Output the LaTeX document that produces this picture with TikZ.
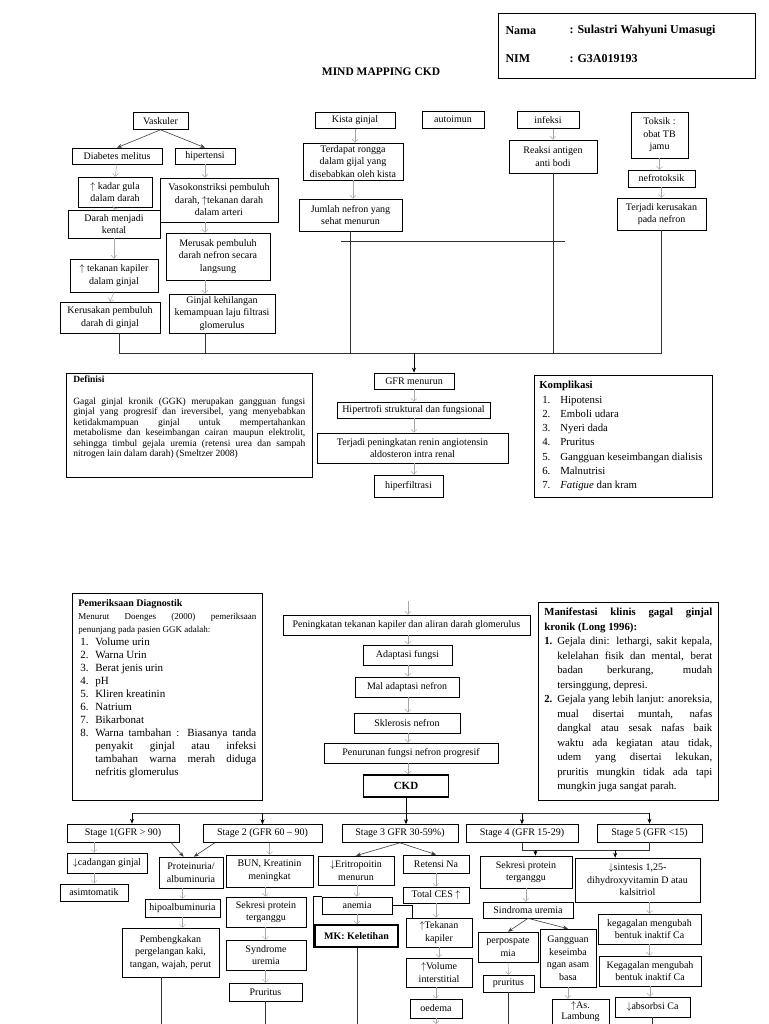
\documentclass[tikz,border=0pt]{standalone}
\usepackage{fontspec}
\setmainfont{Liberation Serif}
\usetikzlibrary{arrows.meta}

\newcommand{\fs}{\fontsize{10}{12.5}\selectfont}
\newcommand{\hdrfont}{\bfseries\fontsize{12}{14}\selectfont}
\newcommand{\litem}[3]{\par\hangindent=#1\hangafter=1\noindent\makebox[#1][l]{#2}#3}

\tikzset{
  cbox/.style={draw, line width=0.6pt, align=center, inner sep=1.5pt, font=\fs},
  txtpanel/.style={draw, line width=0.6pt, anchor=north west, inner ysep=3pt},
  arr/.style={-{Straight Barb[length=3pt,width=6pt]}, gray!70, line width=0.5pt},
  blkarr/.style={-{Stealth[length=5pt,width=4pt]}, black, line width=0.6pt},
  diag/.style={-{Stealth[length=5pt,width=4pt]}, gray!50!black, line width=0.6pt},
  bus/.style={black!80, line width=0.6pt},
  bracket/.style={black, line width=1.5pt}
}

\begin{document}
\begin{tikzpicture}[x=1pt, y=-1pt]
\useasboundingbox (0,0) rectangle (768,1024);
\coordinate (bot) at (0,1024);

% Header
\node[draw, line width=0.8pt, minimum width=257, minimum height=65] (hdr) at (626.5,45.5) {};
\node[anchor=west, font=\hdrfont] (nama) at (502,31) {Nama};
\node[anchor=west, font=\hdrfont] (namaval) at (566,31) {: Sulastri Wahyuni Umasugi};
\node[anchor=west, font=\hdrfont] (nim) at (502,59) {NIM};
\node[anchor=west, font=\hdrfont] (nimval) at (566,59) {: G3A019193};
\node[font=\bfseries\fontsize{11.5}{13}\selectfont] (title) at (381,72) {MIND MAPPING CKD};

% Etiologi - vaskuler
\node[cbox, minimum width=55, minimum height=17] (vask) at (160.5,121) {Vaskuler};
\node[cbox, minimum width=90, minimum height=16] (dm) at (117,156) {Diabetes melitus};
\node[cbox, minimum width=60, minimum height=16] (hip) at (205,156) {hipertensi};
\node[cbox, minimum width=74, minimum height=30] (kadar) at (115,192) {$\uparrow$ kadar gula\\dalam darah};
\node[cbox, minimum width=92, minimum height=28] (kental) at (114,224) {Darah menjadi\\kental};
\node[cbox, minimum width=88, minimum height=33] (tekkap) at (114,275.5) {$\uparrow$ tekanan kapiler\\dalam ginjal};
\node[cbox, minimum width=100, minimum height=31] (kerus) at (110,317.5) {Kerusakan pembuluh\\darah di ginjal};
\node[cbox, minimum width=118, minimum height=44] (vaso) at (219,200) {Vasokonstriksi pembuluh\\darah, $\uparrow$tekanan darah\\dalam arteri};
\node[cbox, minimum width=104, minimum height=47] (merusak) at (218,256.5) {Merusak pembuluh\\darah nefron secara\\langsung};
\node[cbox, minimum width=106, minimum height=39] (ginjalkeh) at (222,313.5) {Ginjal kehilangan\\kemampuan laju filtrasi\\glomerulus};

% Etiologi - lain
\node[cbox, minimum width=80, minimum height=16] (kista) at (355,120.5) {Kista ginjal};
\node[cbox, minimum width=100, minimum height=37] (rongga) at (353,161.5) {Terdapat rongga\\dalam gijal yang\\disebabkan oleh kista};
\node[cbox, minimum width=103, minimum height=32] (jumlah) at (350.5,215) {Jumlah nefron yang\\sehat menurun};
\node[cbox, minimum width=62, minimum height=17] (autoimun) at (453,119.5) {autoimun};
\node[cbox, minimum width=62, minimum height=17] (infeksi) at (548,120) {infeksi};
\node[cbox, minimum width=88, minimum height=33] (reaksi) at (553,156.5) {Reaksi antigen\\anti bodi};
\node[cbox, minimum width=57, minimum height=46] (toksik) at (659.5,135) {Toksik :\\obat TB\\jamu};
\node[cbox, minimum width=67, minimum height=17] (nefrotoksik) at (661.5,178.5) {nefrotoksik};
\node[cbox, minimum width=89, minimum height=32] (terjadikerus) at (661.5,214) {Terjadi kerusakan\\pada nefron};

% Arrows - etiologi
\draw[diag] (vask.south) -- (dm.north);
\draw[diag] (vask.south) -- (hip.north);
\draw[arr] (dm.south) -- (kadar.north);
\draw[arr] (kadar.south) -- (kental.north);
\draw[arr] (kental.south) -- (tekkap.north);
\draw[arr] (tekkap.south) -- (kerus.north);
\draw[arr] (hip.south) -- (hip |- vaso.north);
\draw[arr] (hip |- vaso.south) -- (hip |- merusak.north);
\draw[arr] (hip |- merusak.south) -- (hip |- ginjalkeh.north);
\draw[arr] (kista.south) -- (kista.south |- rongga.north);
\draw[arr] (rongga.south) -- (rongga.south |- jumlah.north);
\draw[arr] (infeksi.south -| reaksi) -- (reaksi.north);
\draw[arr] (toksik.south) -- (toksik.south |- nefrotoksik.north);
\draw[arr] (nefrotoksik.south) -- (terjadikerus.north);

% Bus to GFR
\coordinate (busL) at (119,353);
\coordinate (busR) at (661.5,353);
\coordinate (crossL) at (341,241);
\coordinate (crossR) at (565,241);
\draw[bus] (kerus.south -| busL) -- (busL) -- (busR) -- (terjadikerus.south);
\draw[bus] (ginjalkeh.south -| hip) -- (hip |- busL);
\draw[bus] (jumlah.south) -- (jumlah |- busL);
\draw[bus] (reaksi.south) -- (reaksi |- busL);
\draw[bus] (crossL) -- (crossR);

% Definisi
\node[txtpanel, inner xsep=7pt] (definisi) at (66,373) {\begin{minipage}[t][98pt][t]{232pt}\fontsize{9.5}{10.5}\selectfont
\textbf{Definisi}\par\vspace{11pt}
Gagal ginjal kronik (GGK) merupakan gangguan fungsi\linebreak
ginjal yang progresif dan ireversibel, yang menyebabkan\linebreak
ketidakmampuan ginjal untuk mempertahankan\linebreak
metabolisme dan keseimbangan cairan maupun elektrolit,\linebreak
sehingga timbul gejala uremia (retensi urea dan sampah\linebreak
nitrogen lain dalam darah) (Smeltzer 2008)
\end{minipage}};

% Patofisiologi awal
\node[cbox, minimum width=80, minimum height=16] (gfr) at (414,381) {GFR menurun};
\node[cbox, minimum width=153, minimum height=16] (hipertrofi) at (413.5,410) {Hipertrofi struktural dan fungsional};
\node[cbox, minimum width=191, minimum height=30] (renin) at (412.5,448) {Terjadi peningkatan renin angiotensin\\aldosteron intra renal};
\node[cbox, minimum width=69, minimum height=22] (hiperfiltrasi) at (408.5,486) {hiperfiltrasi};

\draw[blkarr] (gfr |- busL) -- (gfr.north);
\draw[arr] (gfr.south) -- (gfr.south |- hipertrofi.north);
\draw[arr] (gfr.south |- hipertrofi.south) -- (gfr.south |- renin.north);
\draw[arr] (gfr.south |- renin.south) -- (gfr.south |- hiperfiltrasi.north);

% Komplikasi
\node[txtpanel, inner xsep=5pt, inner ysep=6pt] (komplikasi) at (534,375) {\begin{minipage}[t][110pt][t]{168pt}\fontsize{10.8}{14.3}\selectfont
\textbf{Komplikasi}
\litem{21pt}{\hspace*{3pt}1.}{Hipotensi}
\litem{21pt}{\hspace*{3pt}2.}{Emboli udara}
\litem{21pt}{\hspace*{3pt}3.}{Nyeri dada}
\litem{21pt}{\hspace*{3pt}4.}{Pruritus}
\litem{21pt}{\hspace*{3pt}5.}{Gangguan keseimbangan dialisis}
\litem{21pt}{\hspace*{3pt}6.}{Malnutrisi}
\litem{21pt}{\hspace*{3pt}7.}{\textit{Fatigue} dan kram}
\end{minipage}};

% Pemeriksaan diagnostik
\node[txtpanel, inner xsep=6pt, inner ysep=6pt] (diagnostik) at (72,593) {\begin{minipage}[t][195pt][t]{178pt}\fontsize{10}{13}\selectfont
\textbf{Pemeriksaan Diagnostik}\par
{\fontsize{9}{13}\selectfont Menurut Doenges (2000) pemeriksaan\linebreak penunjang pada pasien GGK adalah:\par}
\fontsize{11}{13}\selectfont
\litem{17pt}{\hspace*{2pt}1.}{Volume urin}
\litem{17pt}{\hspace*{2pt}2.}{Warna Urin}
\litem{17pt}{\hspace*{2pt}3.}{Berat jenis urin}
\litem{17pt}{\hspace*{2pt}4.}{pH}
\litem{17pt}{\hspace*{2pt}5.}{Kliren kreatinin}
\litem{17pt}{\hspace*{2pt}6.}{Natrium}
\litem{17pt}{\hspace*{2pt}7.}{Bikarbonat}
\litem{17pt}{\hspace*{2pt}8.}{Warna tambahan : Biasanya tanda\linebreak penyakit ginjal atau infeksi\linebreak tambahan warna merah diduga\linebreak nefritis glomerulus}
\end{minipage}};

% Manifestasi klinis
\node[txtpanel, inner xsep=6pt, inner ysep=6pt] (manifestasi) at (538,602) {\begin{minipage}[t][186pt][t]{168pt}\fontsize{10.8}{14.5}\selectfont
\textbf{Manifestasi klinis gagal ginjal\linebreak kronik (Long 1996):}
\litem{13pt}{\textbf{1.}}{Gejala dini: lethargi, sakit kepala,\linebreak kelelahan fisik dan mental, berat\linebreak badan berkurang, mudah\linebreak tersinggung, depresi.}
\litem{13pt}{\textbf{2.}}{Gejala yang lebih lanjut: anoreksia,\linebreak mual disertai muntah, nafas\linebreak dangkal atau sesak nafas baik\linebreak waktu ada kegiatan atau tidak,\linebreak udem yang disertai lekukan,\linebreak pruritis mungkin tidak ada tapi\linebreak mungkin juga sangat parah.}
\end{minipage}};

% Patofisiologi lanjut
\coordinate (hiperend) at (408,601);
\node[cbox, minimum width=247, minimum height=20] (peningkatan) at (406.5,625) {Peningkatan tekanan kapiler dan aliran darah glomerulus};
\node[cbox, minimum width=89, minimum height=20] (adaptasi) at (407.5,655) {Adaptasi fungsi};
\node[cbox, minimum width=104, minimum height=20] (maladaptasi) at (407,687) {Mal adaptasi nefron};
\node[cbox, minimum width=106, minimum height=20] (sklerosis) at (407,723) {Sklerosis nefron};
\node[cbox, minimum width=174, minimum height=20] (penurunan) at (411,753) {Penurunan fungsi nefron progresif};
\node[cbox, line width=1.2pt, minimum width=85, minimum height=22, font=\bfseries\fontsize{11}{13}\selectfont] (ckd) at (406,786) {CKD};

\draw[arr] (hiperend) -- (peningkatan.north -| hiperend);
\draw[arr] (peningkatan.south -| hiperend) -- (adaptasi.north -| hiperend);
\draw[arr] (adaptasi.south -| hiperend) -- (maladaptasi.north -| hiperend);
\draw[arr] (maladaptasi.south -| hiperend) -- (sklerosis.north -| hiperend);
\draw[arr] (sklerosis.south -| hiperend) -- (penurunan.north -| hiperend);
\draw[arr] (penurunan.south -| hiperend) -- (ckd.north -| hiperend);

% Stages
\node[cbox, minimum width=112, minimum height=18] (stage1) at (123,833) {Stage 1(GFR > 90)};
\node[cbox, minimum width=119, minimum height=18] (stage2) at (262.5,833.5) {Stage 2 (GFR 60 -- 90)};
\node[cbox, minimum width=116, minimum height=18] (stage3) at (400,833.5) {Stage 3 GFR 30-59\%)};
\node[cbox, minimum width=112, minimum height=18] (stage4) at (522,833.5) {Stage 4 (GFR 15-29)};
\node[cbox, minimum width=105, minimum height=18] (stage5) at (649.5,833) {Stage 5 (GFR <15)};

\coordinate (sbL) at (132,813);
\coordinate (sbR) at (649.5,813);
\draw[bus] (sbL) -- (sbR);
\draw[blkarr] (sbL) -- (stage1.north -| sbL);
\draw[blkarr] (stage2 |- sbL) -- (stage2.north);
\draw[blkarr] (stage4 |- sbL) -- (stage4.north);
\draw[blkarr] (sbR) -- (stage5.north);
\draw[blkarr] (ckd.south) -- (ckd.south |- stage3.north);

% Stage 1 & 2
\node[cbox, minimum width=80, minimum height=20] (cadangan) at (107,863) {$\downarrow$cadangan ginjal};
\node[cbox, minimum width=68, minimum height=17] (asim) at (94,892.5) {asimtomatik};
\node[cbox, minimum width=64, minimum height=31] (proteinuria) at (191,872.5) {Proteinuria/\\albuminuria};
\node[cbox, minimum width=75, minimum height=18] (hipoalb) at (182.5,908) {hipoalbuminuria};
\node[cbox, minimum width=97, minimum height=49] (bengkak) at (170.5,952.5) {Pembengkakan\\pergelangan kaki,\\tangan, wajah, perut};
\node[cbox, minimum width=87, minimum height=32] (bun) at (269.5,871) {BUN, Kreatinin\\meningkat};
\node[cbox, minimum width=80, minimum height=30] (sekresi2) at (266,912) {Sekresi protein\\terganggu};
\node[cbox, minimum width=80, minimum height=30] (syndrome) at (266,955) {Syndrome\\uremia};
\node[cbox, minimum width=73, minimum height=18] (pruritus2) at (265.5,992) {Pruritus};

\draw[arr] (stage1.south -| asim) -- (cadangan.north -| asim);
\draw[arr] (cadangan.south -| asim) -- (asim.north);
\draw[diag] (stage1.-11) -- (proteinuria.115);
\draw[diag] (stage2.-169) -- (proteinuria.80);
\draw[arr] (proteinuria.south -| hipoalb) -- (hipoalb.north);
\draw[arr] (hipoalb.south) -- (hipoalb.south |- bengkak.north);
\draw[bus] (bengkak.-110) -- (bengkak.-110 |- bot);
\draw[arr] (stage2.south -| bun) -- (bun.north);
\draw[arr] (bun.south -| pruritus2) -- (sekresi2.north -| pruritus2);
\draw[arr] (sekresi2.south -| pruritus2) -- (syndrome.north -| pruritus2);
\draw[arr] (syndrome.south -| pruritus2) -- (pruritus2.north);
\draw[bus] (pruritus2.south) -- (pruritus2.south |- bot);

% Stage 3
\node[cbox, minimum width=76, minimum height=29] (eritro) at (356,870.5) {$\downarrow$Eritropoitin\\menurun};
\node[cbox, minimum width=66, minimum height=18] (retensi) at (436,864) {Retensi Na};
\node[cbox, minimum width=70, minimum height=17] (anemia) at (357,905.5) {anemia};
\node[cbox, line width=1.2pt, minimum width=83, minimum height=22, font=\bfseries\fs] (mk) at (356.5,936) {MK: Keletihan};
\node[cbox, minimum width=66, minimum height=16] (totalces) at (436,895) {Total CES $\uparrow$};
\node[cbox, minimum width=66, minimum height=29] (tekkap3) at (439,932.5) {$\uparrow$Tekanan\\kapiler};
\node[cbox, minimum width=66, minimum height=29] (volume) at (439,972.5) {$\uparrow$Volume\\interstitial};
\node[cbox, minimum width=52, minimum height=19] (oedema) at (436,1008.5) {oedema};

\draw[diag] (stage3.south) -- (eritro.north);
\draw[diag] (stage3.south) -- (retensi.north);
\draw[arr] (eritro.south -| anemia) -- (anemia.north);
\draw[arr] (anemia.south) -- (mk.north -| anemia);
\draw[bracket] (anemia.north west) -- ++(-8,0) coordinate (brk) -- (brk |- mk.south);
\draw[bracket] (anemia.east) -- ++(20,0) -- ++(0,12);
\draw[bus] (mk.south -| anemia) -- (anemia |- bot);
\draw[arr] (retensi.south) -- (totalces.north);
\draw[arr] (totalces.south) -- (totalces.south |- tekkap3.north);
\draw[arr] (tekkap3.south) -- (volume.north);
\draw[arr] (volume.south -| oedema) -- (oedema.north);
\draw[arr] (oedema.south) -- (oedema.south |- bot);

% Stage 4 & 5
\node[cbox, minimum width=92, minimum height=32] (sekresi4) at (526,872) {Sekresi protein\\terganggu};
\node[cbox, minimum width=90, minimum height=16] (sindroma) at (528,910) {Sindroma uremia};
\node[cbox, minimum width=60, minimum height=30] (perpospate) at (508,947) {perpospate\\mia};
\node[cbox, minimum width=51, minimum height=17] (prur4) at (508.5,983.5) {pruritus};
\node[cbox, minimum width=56, minimum height=58] (gangguan) at (568,958) {Gangguan\\keseimba\\ngan asam\\basa};
\node[cbox, minimum width=57, minimum height=26, font=\fontsize{10}{11}\selectfont] (lambung) at (580.5,1012) {$\uparrow$As.\\Lambung};
\node[cbox, minimum width=125, minimum height=44] (sintesis) at (637.5,880) {$\downarrow$sintesis 1,25-\\dihydroxyvitamin D atau\\kalsitriol};
\node[cbox, minimum width=103, minimum height=30] (gagal1) at (649.5,929) {kegagalan mengubah\\bentuk inaktif Ca};
\node[cbox, minimum width=102, minimum height=30] (gagal2) at (650,971) {Kegagalan mengubah\\bentuk inaktif Ca};
\node[cbox, minimum width=75, minimum height=20] (absorbsi) at (652.5,1007) {$\downarrow$absorbsi Ca};

\coordinate (s45) at (522,850);
\draw[bus] (stage4.south) -- (s45) -| (stage5.south);
\draw[blkarr] (s45 -| sekresi4.60) -- (sekresi4.60);
\draw[blkarr] (s45 -| sintesis.135) -- (sintesis.135);
\draw[arr] (sekresi4.south) -- (sekresi4.south |- sindroma.north);
\draw[diag] (sindroma.south) -- (perpospate.north);
\draw[diag] (sindroma.south) -- (gangguan.north);
\draw[arr] (perpospate.south) -- (prur4.north);
\draw[bus] (prur4.south -| perpospate) -- (perpospate |- bot);
\draw[arr] (gangguan.south) -- (gangguan.south |- lambung.north);
\draw[arr] (sintesis.south -| gagal1) -- (gagal1.north);
\draw[arr] (gagal1.south) -- (gagal1.south |- gagal2.north);
\draw[arr] (gagal2.south) -- (gagal2.south |- absorbsi.north);
\draw[bus] (absorbsi.south) -- (absorbsi.south |- bot);

\end{tikzpicture}
\end{document}
